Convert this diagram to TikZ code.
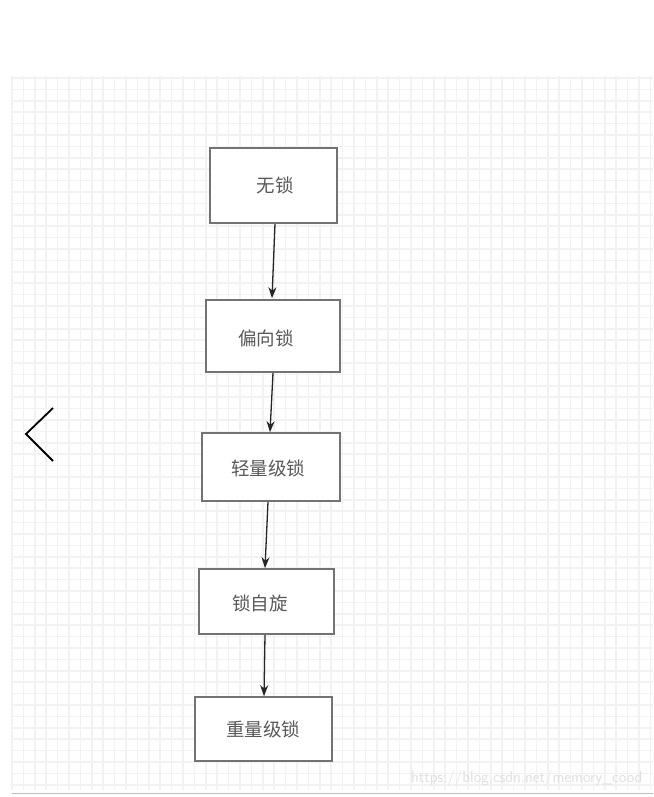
\documentclass[tikz,border=0pt]{standalone}
\usepackage{fontspec}
\newfontfamily\cjk{Noto Sans CJK SC}
\usetikzlibrary{arrows.meta}
\begin{document}
\begin{tikzpicture}[x=1pt,y=-1pt,
  lockbox/.style={draw=black!55,line width=1.6pt,fill=white,inner sep=0pt},
  locktext/.style={font=\cjk\fontsize{18.5}{22}\selectfont,text=black!65},
  flow/.style={-{Stealth[length=11pt,width=8pt]},line width=1.3pt,black!85}]
\useasboundingbox (0,0) rectangle (653,797);
\fill[white] (0,0) rectangle (653,797);
\foreach \x in {12,23.4,...,653} \draw[black!5,line width=1.5pt] (\x,76) -- (\x,790);
\foreach \y in {78,89.4,...,790} \draw[black!5,line width=1.5pt] (12,\y) -- (653,\y);
\draw[black!25,line width=1pt] (12,793) -- (653,793);
\node[lockbox,minimum width=127pt,minimum height=75pt] (a) at (273.5,185.5) {};
\node[locktext] (at) at (275,185) {无锁};
\node[lockbox,minimum width=134pt,minimum height=72pt] (b) at (273,336) {};
\node[locktext] (bt) at (266,338) {偏向锁};
\node[lockbox,minimum width=138pt,minimum height=68pt] (c) at (271,467) {};
\node[locktext] (ct) at (268,468) {轻量级锁};
\node[lockbox,minimum width=135pt,minimum height=65pt] (d) at (266.5,601.5) {};
\node[locktext] (dt) at (260,603) {锁自旋};
\node[lockbox,minimum width=137pt,minimum height=64pt] (e) at (263.5,729) {};
\node[locktext] (et) at (263,729) {重量级锁};
\draw[flow] ([xshift=1.5pt]a.south) -- ([xshift=-1pt,yshift=1pt]b.north);
\draw[flow] (b.south) -- ([xshift=-1pt]c.north);
\draw[flow] ([xshift=-3pt]c.south) -- ([xshift=-1.5pt]d.north);
\draw[flow] ([xshift=-1.5pt]d.south) -- ([xshift=0.5pt]e.north);
\coordinate (p1) at (53,408); \coordinate (p2) at (26,434); \coordinate (p3) at (53,461);
\draw[black,line width=1.8pt] (p1) -- (p2) -- (p3);
\node[anchor=east,font=\sffamily\fontsize{16}{18}\selectfont,text=black!12] (w) at (646,778) {https://blog.csdn.net/memory\_cood};
\end{tikzpicture}
\end{document}
